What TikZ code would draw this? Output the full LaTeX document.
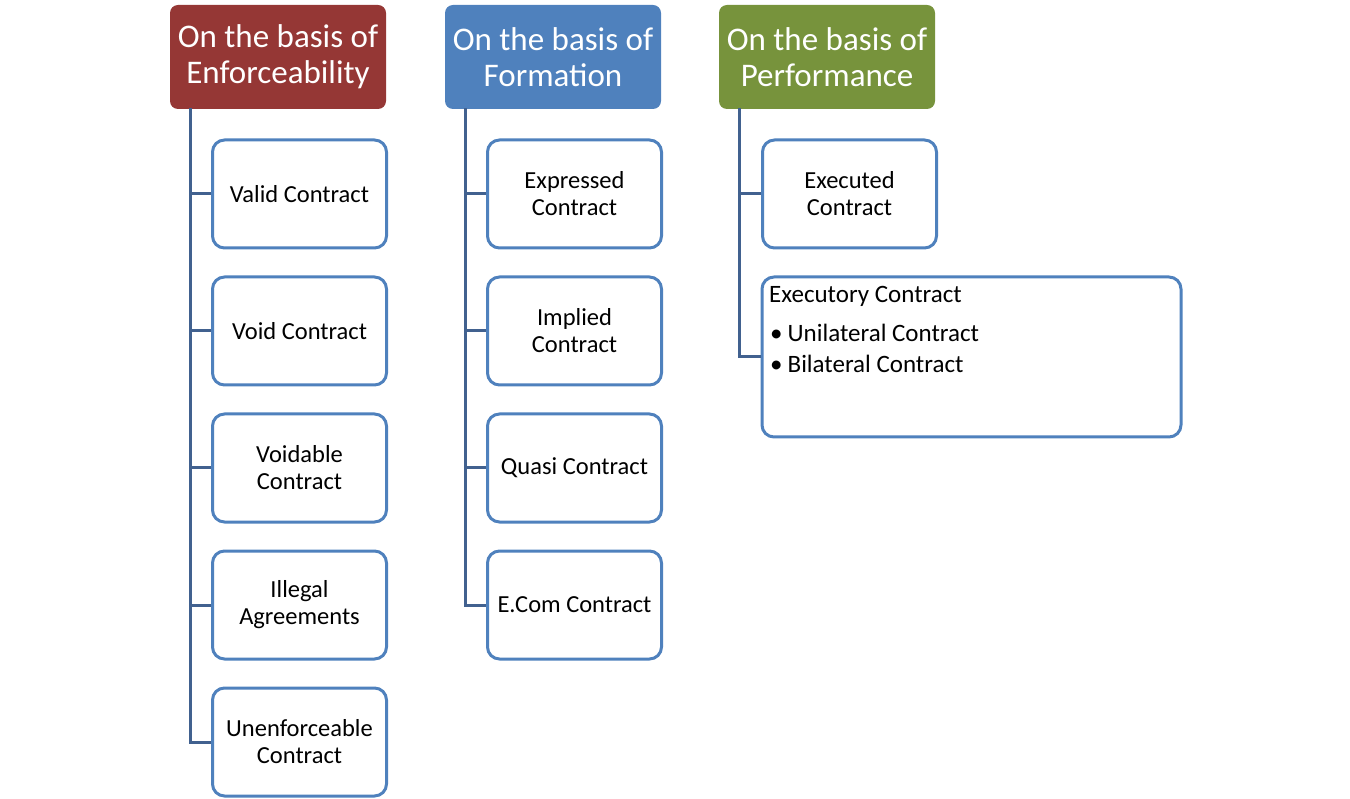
\documentclass[tikz,border=0pt]{standalone}
\usepackage{fontspec}
\setmainfont{Carlito}
\definecolor{hred}{HTML}{953735}
\definecolor{hblue}{HTML}{4F81BD}
\definecolor{hgreen}{HTML}{77933C}
\definecolor{bord}{HTML}{4F81BD}
\definecolor{conn}{HTML}{41618F}
\begin{document}
\begin{tikzpicture}[x=1pt,y=-1pt,
  header/.style={rounded corners=8pt, minimum width=216pt, minimum height=104pt, inner sep=0pt,
    text=white, align=center, font=\fontsize{33}{36}\selectfont},
  child/.style={draw=bord, line width=3pt, rounded corners=12pt, fill=white, minimum width=174pt,
    minimum height=108pt, inner sep=0pt, align=center, font=\fontsize{24.5}{27}\selectfont},
  link/.style={draw=conn, line width=3pt},
  bul/.style={anchor=base west, inner sep=0pt, font=\fontsize{25}{31}\selectfont}]
\useasboundingbox (0,0) rectangle (1350,799);
% headers
\node[header, fill=hred] (h1) at (278,57) {On the basis of\\Enforceability};
\node[header, fill=hblue] (h2) at (553,57) {On the basis of\\Formation};
\node[header, fill=hgreen] (h3) at (827,57) {On the basis of\\Performance};
% left column
\node[child] (a1) at (299.5,194) {Valid Contract};
\node[child] (a2) at (299.5,331) {Void Contract};
\node[child] (a3) at (299.5,468) {Voidable\\Contract};
\node[child] (a4) at (299.5,605) {Illegal\\Agreements};
\node[child] (a5) at (299.5,742) {Unenforceable\\Contract};
% middle column
\node[child] (b1) at (574.5,194) {Expressed\\Contract};
\node[child] (b2) at (574.5,331) {Implied\\Contract};
\node[child] (b3) at (574.5,468) {Quasi Contract};
\node[child] (b4) at (574.5,605) {E.Com Contract};
% right column
\node[child] (c1) at (849.5,194) {Executed\\Contract};
\node[child, minimum width=419pt, minimum height=160pt] (c2) at (971.5,357) {};
\node[bul] (c2t) at (769,303) {Executory Contract};
\node[bul] (c2a) at (770,342) {\textbullet\hspace{5pt}Unilateral Contract};
\node[bul] (c2b) at (770,373) {\textbullet\hspace{5pt}Bilateral Contract};
% connectors
\coordinate (s1) at (190,108);
\coordinate (s2) at (465,108);
\coordinate (s3) at (739,108);
\draw[link] (s1) |- (a5.west);
\foreach \n in {a1,a2,a3,a4} \draw[link] (s1 |- \n.west) -- (\n.west);
\draw[link] (s2) |- (b4.west);
\foreach \n in {b1,b2,b3} \draw[link] (s2 |- \n.west) -- (\n.west);
\draw[link] (s3) |- (c2.west);
\draw[link] (s3 |- c1.west) -- (c1.west);
\end{tikzpicture}
\end{document}
